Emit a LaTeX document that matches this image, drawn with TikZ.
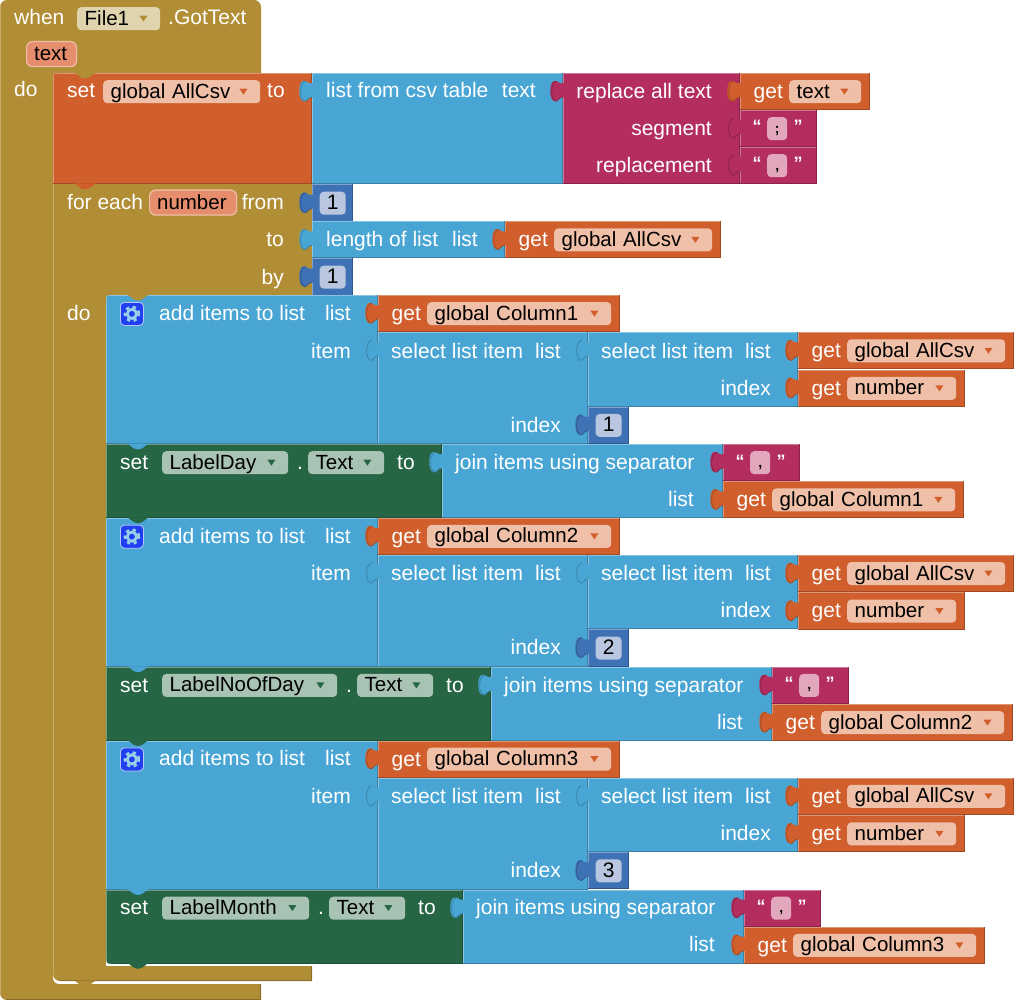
\documentclass[tikz,border=0pt]{standalone}
\usepackage{xcolor}
\usepackage{fontspec}
\setmainfont{Liberation Sans}
\usepackage{tikz}
\definecolor{ochreblock}{HTML}{B18E35}
\definecolor{orangeblock}{HTML}{D05F2D}
\definecolor{blueblock}{HTML}{49A6D4}
\definecolor{pinkblock}{HTML}{B32D5E}
\definecolor{greenblock}{HTML}{266645}
\definecolor{numblock}{HTML}{3F71B5}
\definecolor{orangefield}{HTML}{F0BFA8}
\definecolor{varfield}{HTML}{E58D6C}
\definecolor{greenfield}{HTML}{A8C3B3}
\definecolor{ochrefield}{HTML}{E0D4AE}
\definecolor{numfield}{HTML}{B8C6E0}
\definecolor{pinkfield}{HTML}{E3A7BD}
\definecolor{gearbox}{HTML}{1F3FF0}

% plain block with a light top and left edge, a dark bottom and right edge
\newcommand{\blk}[5]{
    \fill[#5] (#1,#2) rectangle ++(#3,#4);
    \draw[#5!65!white, line width=1pt] (#1+0.5,#2+#4) -- (#1+0.5,#2+0.5) -- (#1+#3,#2+0.5);
    \draw[#5!78!black, line width=1pt] (#1,#2+#4-0.5) -- (#1+#3-0.5,#2+#4-0.5) -- (#1+#3-0.5,#2);
}
% output tab on the left side of a value block
\newcommand{\plug}[3]{
    \fill[#3] (#1+1,#2+10) .. controls (#1-4,#2+12) and (#1-5,#2+7) .. (#1-9,#2+8)
        .. controls (#1-14,#2+9) and (#1-14,#2+27) .. (#1-9,#2+28)
        .. controls (#1-5,#2+29) and (#1-4,#2+23) .. (#1+1,#2+24) -- cycle;
    \draw[#3!78!black, line width=0.8pt] (#1-6,#2+8.3) .. controls (#1-13,#2+8) and (#1-13,#2+28) .. (#1-7,#2+28.3)
        .. controls (#1-5,#2+28.5) and (#1-4,#2+24) .. (#1,#2+24);
}
% notch under a statement block
\newcommand{\bump}[3]{
    \fill[#3] (#1+21,#2-0.5) .. controls (#1+24,#2+0.5) and (#1+27,#2+5.5) .. (#1+32,#2+5.5)
        .. controls (#1+37,#2+5.5) and (#1+40,#2+0.5) .. (#1+43,#2-0.5) -- cycle;
}
% rounded corner of a block, filled with what lies behind it
\newcommand{\cornertl}[3]{\fill[#3] (#1,#2) -- (#1+6,#2) .. controls (#1,#2) .. (#1,#2+6) -- cycle;}
\newcommand{\cornerbl}[3]{\fill[#3] (#1,#2) -- (#1+7,#2) .. controls (#1,#2) .. (#1,#2-7) -- cycle;}
% dropdown field: name, x, y, width, text, fill, triangle
\newcommand{\ddfield}[7]{
    \pgfmathsetmacro{\fieldtw}{#4-15}
    \node[field, fill=#6, text width=\fieldtw pt] (#1) at (#2,#3) {#5};
    \fill[#7] ([xshift=-21pt,yshift=3pt]#1.east) -- ++(8,0) -- ++(-4,6) -- cycle;
}
% get block: name, x, y, width, variable
\newcommand{\getblk}[5]{
    \blk{#2}{#3}{#4}{37.2}{orangeblock}
    \plug{#2}{#3}{orangeblock}
    \node[lbl] (#1kw) at (#2+13.5,#3+25.5) {get};
    \ddfield{#1f}{#2+49}{#3+7}{#4-58}{#5}{orangefield}{orangeblock}
}
% number block
\newcommand{\numblk}[4]{
    \blk{#2}{#3}{41}{37.2}{numblock}
    \plug{#2}{#3}{numblock}
    \node[valfield, fill=numfield, minimum width=26pt] (#1) at (#2+7.5,#3+7) {#4};
}
% text block
\newcommand{\strblk}[4]{
    \blk{#2}{#3}{77}{37.2}{pinkblock}
    \plug{#2}{#3}{pinkblock}
    \node[lbl, font=\fontsize{18}{20}\selectfont\bfseries] (#1a) at (#2+12.5,#3+23) {“};
    \node[valfield, fill=pinkfield, minimum width=20pt, text height=16pt, text depth=7pt, font=\fontsize{14}{16}\selectfont\bfseries] (#1) at (#2+27,#3+7) {#4};
    \node[lbl, font=\fontsize{18}{20}\selectfont\bfseries] (#1b) at (#2+53.5,#3+23) {”};
}
% one add items block with the set block under it: tag, y, number, label, x of join, width of label field
\newcommand{\addgroup}[6]{
    \blk{106}{#2}{272}{149}{blueblock}
    \node[gearnode] (#1gear) at (120,#2+7) {};
    \draw[gearteeth, line width=2.6pt, dash pattern=on 3.4pt off 3.5pt] (#1gear.center) circle (7pt);
    \draw[gearteeth, line width=2.8pt] (#1gear.center) circle (4.6pt);
    \node[lbl] (#1add) at (159,#2+25.4) {add items to list};
    \node[lblr] (#1list) at (351,#2+25.4) {list};
    \node[lblr] (#1item) at (351,#2+63) {item};
    \getblk{#1get}{378}{#2}{242}{global Column#3}
    % select list item
    \blk{378}{#2+37.1}{210}{112}{blueblock}
    \plug{378}{#2+37.1}{blueblock}
    \node[lbl] (#1sel) at (391,#2+63) {select list item};
    \node[lblr] (#1sellist) at (561,#2+63) {list};
    \node[lblr] (#1selidx) at (561,#2+137) {index};
    % inner select list item
    \blk{588}{#2+37.1}{210}{74.6}{blueblock}
    \plug{588}{#2+37.1}{blueblock}
    \node[lbl] (#1inner) at (601,#2+63) {select list item};
    \node[lblr] (#1innerlist) at (771,#2+63) {list};
    \node[lblr] (#1inneridx) at (771,#2+100) {index};
    \getblk{#1all}{798}{#2+37.1}{216}{global AllCsv}
    \getblk{#1nr}{798}{#2+74.7}{167}{number}
    \numblk{#1idx}{588}{#2+111.7}{#3}
    % set label
    \pgfmathsetmacro{\setw}{#5-106}
    \pgfmathsetmacro{\dotx}{162+#6+9}
    \pgfmathsetmacro{\propx}{162+#6+20}
    \pgfmathsetmacro{\tox}{162+#6+109}
    \blk{106}{#2+149}{\setw}{74.3}{greenblock}
    \node[lbl] (#1set) at (120,#2+174.3) {set};
    \ddfield{#1name}{162}{#2+156}{#6}{#4}{greenfield}{greenblock}
    \node[lbl] (#1dot) at (\dotx,#2+174.3) {.};
    \ddfield{#1prop}{\propx}{#2+156}{76}{Text}{greenfield}{greenblock}
    \node[lbl] (#1to) at (\tox,#2+174.3) {to};
    % join
    \blk{#5}{#2+149}{281}{74.3}{blueblock}
    \plug{#5}{#2+149}{blueblock}
    \node[lbl] (#1join) at (#5+13,#2+174.3) {join items using separator};
    \node[lblr] (#1joinlist) at (#5+252,#2+211.3) {list};
    \strblk{#1sep}{#5+281}{#2+149}{,}
    \getblk{#1col}{#5+281}{#2+186.2}{241}{global Column#3}
    \bump{106}{#2+149}{blueblock}
}

\begin{document}
\begin{tikzpicture}[
    x=1pt, y=-1pt,
    every node/.style={font=\fontsize{21}{24}\selectfont},
    lbl/.style={
        text=white,
        inner sep=0pt,
        anchor=base west
    },
    lblr/.style={
        lbl,
        anchor=base east
    },
    field/.style={
        rounded corners=4pt,
        text=black,
        align=left,
        anchor=north west,
        inner xsep=7.5pt,
        inner ysep=0pt,
        text height=18pt,
        text depth=5pt,
        font=\fontsize{20.5}{24}\selectfont
    },
    varname/.style={
        field,
        fill=varfield,
        draw=orangefield,
        line width=1.2pt,
        rounded corners=6pt,
        text height=19pt,
        text depth=6pt
    },
    valfield/.style={
        rounded corners=4pt,
        text=black,
        align=center,
        anchor=north west,
        inner sep=0pt,
        text height=18pt,
        text depth=5pt
    },
    gearnode/.style={
        rectangle,
        draw=white!70!gearbox,
        fill=gearbox,
        rounded corners=4pt,
        line width=0.8pt,
        anchor=north west,
        inner sep=0pt,
        minimum size=23pt
    },
    gearteeth/.style={
        color=blueblock!55!white
    }
]
\useasboundingbox (0,0) rectangle (1014,1000);

% When block
\fill[ochreblock] [rounded corners=7pt] (261,1000) -- (0,1000) -- (0,0) -- (261,0) [sharp corners] -- (261,73) -- (53,73) [rounded corners=6pt] -- (53,984) [sharp corners] -- (261,984) -- cycle;
\draw[ochreblock!78!black, line width=1pt] (6,999.5) -- (260.5,999.5) -- (260.5,984);
\draw[ochreblock!75!white, line width=1pt] (0.5,994) -- (0.5,6);
\node[lbl] (when) at (14,25) {when};
\ddfield{filefield}{77}{7}{83}{File1}{ochrefield}{ochreblock}
\node[lbl] (gottext) at (168,25) {.GotText};
\node[varname, text width=35pt] (textvar) at (26,41) {text};
\node[lbl] (dowhen) at (14,97) {do};

% For each block
\fill[ochreblock] (53,184) -- (312,184) -- (312,295) -- (106,295) -- (106,966) -- (312,966) -- (312,981) [rounded corners=7pt] -- (53,981) [sharp corners] -- cycle;
\draw[ochreblock!78!black, line width=1pt] (60,980.5) -- (311.5,980.5) -- (311.5,966);
\draw[ochreblock!75!white, line width=1pt] (53.5,974) -- (53.5,184);
\node[lbl] (foreach) at (67,210) {for each};
\node[varname, text width=72pt] (numbervar) at (149,189.5) {number};
\node[lblr] (from) at (284,210) {from};
\node[lblr] (toby) at (284,247) {to};
\node[lblr] (by) at (284,284) {by};
\node[lbl] (doeach) at (67,320) {do};
\numblk{fromnum}{312}{184.5}{1}
\blk{312}{221.2}{193}{37.2}{blueblock}
\plug{312}{221.2}{blueblock}
\node[lbl] (length) at (326,247) {length of list};
\node[lblr] (lengthlist) at (478,247) {list};
\getblk{lengthget}{505}{221.2}{216}{global AllCsv}
\numblk{bynum}{312}{258.4}{1}
\bump{53}{981}{ochreblock}

% Set global AllCsv
\blk{53}{73}{259}{111}{orangeblock}
\cornertl{53}{73}{ochreblock}
\bump{53}{73}{ochreblock}
\node[lbl] (setall) at (67,98) {set};
\ddfield{allfield}{103}{80}{157}{global AllCsv}{orangefield}{orangeblock}
\node[lbl] (toall) at (267,98) {to};
\bump{53}{184}{orangeblock}

% List from csv table
\blk{312}{73}{251}{111}{blueblock}
\plug{312}{73}{blueblock}
\node[lbl] (csvtable) at (326,98) {list from csv table};
\node[lblr] (csvtext) at (536,98) {text};

% Replace all text
\blk{563}{73}{177}{111}{pinkblock}
\plug{563}{73}{pinkblock}
\node[lblr] (replaceall) at (712,98.5) {replace all text};
\node[lblr] (segment) at (712,135.7) {segment};
\node[lblr] (replacement) at (712,172.7) {replacement};
\getblk{gettext}{740}{73}{130}{text}
\strblk{segstr}{740}{110}{;}
\strblk{repstr}{740}{147}{,}

% Add items blocks
\addgroup{one}{295}{1}{LabelDay}{442}{126}
\cornertl{106}{295}{ochreblock}
\bump{106}{295}{ochreblock}
\addgroup{two}{517.75}{2}{LabelNoOfDay}{491}{175}
\bump{106}{517.75}{greenblock}
\addgroup{three}{740.5}{3}{LabelMonth}{463}{147}
\bump{106}{740.5}{greenblock}
\cornerbl{106}{963.8}{white}
\bump{106}{963.3}{greenblock}

\end{tikzpicture}
\end{document}
